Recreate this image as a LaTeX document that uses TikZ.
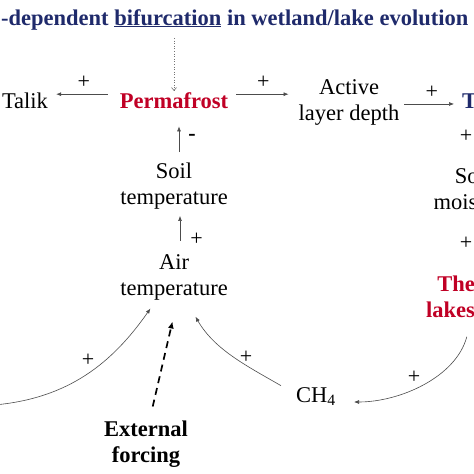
\documentclass[tikz,border=0pt]{standalone}
\usepackage{fontspec}
\setmainfont{Liberation Serif}
\usetikzlibrary{arrows.meta}
\definecolor{titleblue}{HTML}{1F2A6B}
\definecolor{frostred}{HTML}{C00025}
\tikzset{
	lbl/.style={font=\fontsize{22.5}{26}\selectfont, align=center, inner sep=2pt},
	hot/.style={lbl, font=\fontsize{22.5}{26}\selectfont\bfseries},
	sign/.style={font=\fontsize{22}{22}\selectfont, inner sep=0pt},
	link/.style={draw=black!70, line width=0.6pt, -{Latex[length=5pt,width=4pt]}},
	push/.style={draw=black, line width=1.7pt, dash pattern=on 7pt off 5pt, -{Latex[length=7pt,width=6pt]}},
	cue/.style={draw=black!55, line width=0.6pt, dotted, -{Straight Barb[length=3pt,width=5pt]}}
}
\begin{document}
\begin{tikzpicture}[x=1pt,y=1pt]

\def\TITLECOLOR{titleblue}
\def\HOTCOLOR{frostred}
	\useasboundingbox (0,0) rectangle (474,-474);
	\clip (0,0) rectangle (474,-474);
	\node[hot, anchor=base west, inner sep=0pt, text=\TITLECOLOR] (title) at (1,-25) {-dependent \underline{bifurcation} in wetland/lake evolution};
	\node[lbl, anchor=base] (talik) at (25,-108) {Talik};
	\node[hot, anchor=base, text=\HOTCOLOR] (perm) at (174,-108) {Permafrost};
	\node[lbl, anchor=base] (active) at (349,-120) {Active\\layer depth};
	\node[hot, anchor=base west, inner sep=0pt, text=\TITLECOLOR] (thaw) at (462,-108) {T};
	\node[lbl, anchor=base] (moist) at (473,-209) {Soil\\moisture};
	\node[hot, anchor=base east, align=right, inner sep=0pt, text=\HOTCOLOR] (lakes) at (475,-317) {The\\lakes};
	\node[lbl, anchor=base] (soil) at (174,-204) {Soil\\temperature};
	\node[lbl, anchor=base] (air) at (174,-295) {Air\\temperature};
	\node[lbl, anchor=base] (ch4) at (316,-402) {CH\textsubscript{4}};
	\node[hot, anchor=base] (ext) at (146,-462) {External\\forcing};

	\draw[cue] (perm.north |- title.south) ++(0,-8) -- ([yshift=-1pt]perm.north);
	\draw[link, shorten <=10pt, shorten >=6pt] ([yshift=6pt]perm.west) -- ([yshift=6pt]talik.east |- perm.west) node[sign, midway, above=5pt] {+};
	\draw[link, shorten <=6pt, shorten >=8pt] ([yshift=6pt]perm.east) -- ([yshift=6pt]perm.east -| active.west) node[sign, midway, above=5pt] {+};
	\draw[link, shorten <=3pt, shorten >=8pt] ([yshift=-2pt]active.east) -- ([yshift=-2pt]active.east -| thaw.west) node[sign, midway, above=5pt] {+};
	\node[sign] (plusA) at (466,-136) {+};
	\node[sign] (plusB) at (466,-243) {+};
	\draw[link, shorten <=8pt, shorten >=16pt] ([xshift=5pt]soil.north) -- ([xshift=5pt]perm.south) node[pos=0.45, right=9pt, font=\bfseries\fontsize{22}{22}\selectfont, inner sep=0pt] {-};
	\draw[link, shorten <=11pt, shorten >=5pt] ([xshift=6pt]air.north) -- ([xshift=6pt]soil.south) node[sign, pos=0.3, right=10pt] {+};
	\coordinate (westin) at (-6,-405);
	\draw[link, shorten >=8pt] (westin) to[out=5, in=-125] ([xshift=-19pt]air.south);
	\node[sign] (plusC) at (88,-360) {+};
	\draw[push, shorten <=12pt, shorten >=20pt] ([xshift=4pt]ext.north) -- ([xshift=3pt]air.south);
	\draw[link, shorten <=15pt, shorten >=17pt] ([yshift=3pt]ch4.west) to[out=150, in=-60] ([xshift=13pt]air.south);
	\node[sign] (plusD) at (246,-357) {+};
	\draw[link, shorten <=20pt, shorten >=16pt] ([xshift=-3pt]lakes.south east) to[out=-105, in=0] (ch4.base east);
	\node[sign] (plusE) at (414,-377) {+};

\end{tikzpicture}
\end{document}
